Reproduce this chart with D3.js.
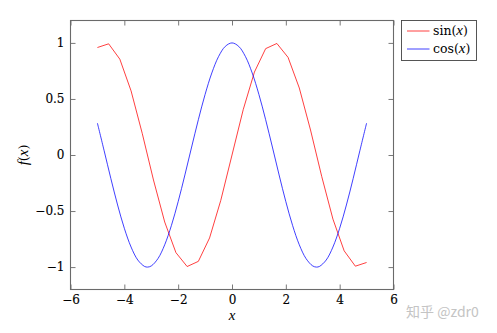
<!DOCTYPE html>
<html>
<head>
<meta charset="utf-8">
<script src="https://cdn.jsdelivr.net/npm/d3@7"></script>
<style>
  html, body { margin: 0; padding: 0; background: #fff; }
  svg { display: block; }
</style>
</head>
<body>
<svg id="chart" width="497" height="333"></svg>
<script>
// ---- data ----
const sinX = [-5, -4.583, -4.167, -3.75, -3.333, -2.917, -2.5, -2.083, -1.667, -1.25, -0.833, -0.417, 0,
              0.417, 0.833, 1.25, 1.667, 2.083, 2.5, 2.917, 3.333, 3.75, 4.167, 4.583, 5];
const sinY = [0.959, 0.992, 0.855, 0.572, 0.191, -0.223, -0.598, -0.871, -0.995, -0.949, -0.740, -0.405, 0,
              0.405, 0.740, 0.949, 0.995, 0.871, 0.598, 0.223, -0.191, -0.572, -0.855, -0.992, -0.959];
const cosX = [-5, -4.75, -4.5, -4.25, -4, -3.75, -3.5, -3.25, -3.14, -3, -2.75, -2.5, -2.25, -2, -1.75, -1.5, -1.25, -1, -0.75, -0.5, -0.25, 0,
              0.25, 0.5, 0.75, 1, 1.25, 1.5, 1.75, 2, 2.25, 2.5, 2.75, 3, 3.14, 3.25, 3.5, 3.75, 4, 4.25, 4.5, 4.75, 5];
const cosY = [0.284, 0.038, -0.211, -0.446, -0.654, -0.821, -0.937, -0.994, -1.0, -0.990, -0.924, -0.801, -0.628, -0.416, -0.178, 0.071, 0.315, 0.540, 0.732, 0.878, 0.969, 1.0,
              0.969, 0.878, 0.732, 0.540, 0.315, 0.071, -0.178, -0.416, -0.628, -0.801, -0.924, -0.990, -1.0, -0.994, -0.937, -0.821, -0.654, -0.446, -0.211, 0.038, 0.284];
const xTicks = [-6, -4, -2, 0, 2, 4, 6];
const yTicks = [-1, -0.5, 0, 0.5, 1];
const seriesNames = ["sin", "cos"];

// ---- layout ----
const svg = d3.select("#chart");
const pLeft = 70.5, pRight = 393.5, pTop = 20.5, pBottom = 289.5;
const x = d3.scaleLinear().domain([-6, 6]).range([pLeft, pRight]);
const y = d3.scaleLinear().domain([-1.2, 1.2]).range([pBottom, pTop]);
const serif = "'DejaVu Serif', 'Liberation Serif', serif";
const italicSerif = "'Liberation Serif', 'DejaVu Serif', serif";
const axisColor = "#6a6a6a";
const tickLen = 5;

// curves
svg.append("clipPath").attr("id", "clip").append("rect")
  .attr("x", pLeft).attr("y", pTop).attr("width", pRight - pLeft).attr("height", pBottom - pTop);
const linear = d3.line().x(d => x(d[0])).y(d => y(d[1])).curve(d3.curveLinear);
const smooth = d3.line().x(d => x(d[0])).y(d => y(d[1])).curve(d3.curveCatmullRom);
svg.append("path")
  .attr("d", linear(sinX.map((v, i) => [v, sinY[i]])))
  .attr("fill", "none").attr("stroke", "#ff0000").attr("stroke-width", 0.75)
  .attr("clip-path", "url(#clip)");
svg.append("path")
  .attr("d", smooth(cosX.map((v, i) => [v, cosY[i]])))
  .attr("fill", "none").attr("stroke", "#0000ff").attr("stroke-width", 0.75)
  .attr("clip-path", "url(#clip)");

// axes (ticks inward, on all sides)
const fmt = d => (d < 0 ? "\u2212" : "") + Math.abs(d);
const bottomAxis = d3.axisBottom(x).tickValues(xTicks).tickSize(-tickLen).tickPadding(6).tickFormat(fmt);
const topAxis = d3.axisTop(x).tickValues(xTicks).tickSize(-tickLen).tickFormat("");
const leftAxis = d3.axisLeft(y).tickValues(yTicks).tickSize(-tickLen).tickPadding(6).tickFormat(fmt);
const rightAxis = d3.axisRight(y).tickValues(yTicks).tickSize(-tickLen).tickFormat("");

function styleAxis(g) {
  g.attr("font-family", serif).attr("font-size", 12);
  g.select(".domain").remove();
  g.selectAll(".tick line").attr("stroke", axisColor).attr("stroke-width", 0.9);
  g.selectAll(".tick text").attr("fill", "#000").attr("stroke", "#000").attr("stroke-width", 0.15);
}
svg.append("g").attr("transform", `translate(0,${pBottom})`).call(bottomAxis).call(styleAxis);
svg.append("g").attr("transform", `translate(0,${pTop})`).call(topAxis).call(styleAxis);
svg.append("g").attr("transform", `translate(${pLeft},0)`).call(leftAxis).call(styleAxis);
svg.append("g").attr("transform", `translate(${pRight},0)`).call(rightAxis).call(styleAxis);

// frame
svg.append("rect").attr("x", pLeft).attr("y", pTop).attr("width", pRight - pLeft).attr("height", pBottom - pTop)
  .attr("fill", "none").attr("stroke", axisColor).attr("stroke-width", 1.1);

// axis labels
svg.append("text").attr("x", x(0)).attr("y", 319.5)
  .attr("text-anchor", "middle").attr("font-family", italicSerif).attr("font-style", "italic").attr("font-size", 15)
  .attr("fill", "#000").text("x");
const fl = svg.append("text").attr("transform", `translate(27.5,${y(0)}) rotate(-90)`)
  .attr("text-anchor", "middle").attr("font-family", serif).attr("font-size", 12.5).attr("fill", "#000");
fl.append("tspan").attr("font-family", italicSerif).attr("font-style", "italic").attr("font-size", 15).text("f");
fl.append("tspan").text("(");
fl.append("tspan").attr("font-family", italicSerif).attr("font-style", "italic").attr("font-size", 15).text("x");
fl.append("tspan").text(")");

// legend
const lg = svg.append("g");
lg.append("rect").attr("x", 401.5).attr("y", 20.5).attr("width", 75).attr("height", 40)
  .attr("fill", "#fff").attr("stroke", "#444").attr("stroke-width", 0.9);
const legColors = ["#ff0000", "#0000ff"];
seriesNames.forEach((name, i) => {
  const ly = 31 + i * 18;
  lg.append("line").attr("x1", 407).attr("x2", 429.5).attr("y1", ly).attr("y2", ly)
    .attr("stroke", legColors[i]).attr("stroke-width", 0.75);
  const t = lg.append("text").attr("x", 433).attr("y", ly + 3.5)
    .attr("font-family", serif).attr("font-size", 12.5).attr("fill", "#000");
  t.append("tspan").text(name + "(");
  t.append("tspan").attr("font-family", italicSerif).attr("font-style", "italic").attr("font-size", 15).text("x");
  t.append("tspan").text(")");
});

// watermark
svg.append("text").attr("x", 406).attr("y", 317)
  .attr("font-family", "'Noto Sans CJK SC', sans-serif").attr("font-size", 14).attr("fill", "#c4c4c4")
  .text("知乎 @zdr0");
</script>
</body>
</html>
